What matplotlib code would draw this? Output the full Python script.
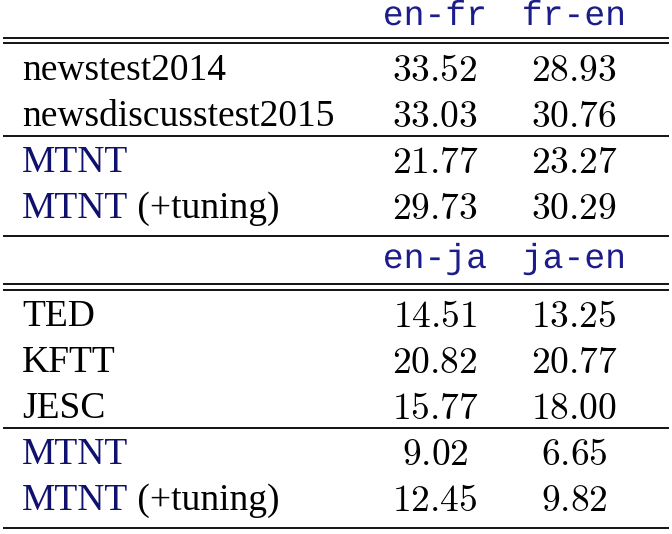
import matplotlib
matplotlib.use("Agg")
import matplotlib.pyplot as plt
import matplotlib.patheffects as pe

# data
pairs_fr = ["en-fr", "fr-en"]
rows_fr = ["newstest2014", "newsdiscusstest2015", "MTNT", "MTNT (+tuning)"]
bleu_en_fr = [33.52, 33.03, 21.77, 29.73]
bleu_fr_en = [28.93, 30.76, 23.27, 30.29]

pairs_ja = ["en-ja", "ja-en"]
rows_ja = ["TED", "KFTT", "JESC", "MTNT", "MTNT (+tuning)"]
bleu_en_ja = [14.51, 20.82, 15.77, 9.02, 12.45]
bleu_ja_en = [13.25, 20.77, 18.00, 6.65, 9.82]

plt.rcParams["mathtext.fontset"] = "cm"
blue = "#1c1c8a"
navy = "#10106e"
fs = 27

fig = plt.figure(figsize=(6.72, 5.34), dpi=100)
ax = fig.add_axes([0, 0, 1, 1])
ax.set_xlim(0, 672)
ax.set_ylim(534, 0)
ax.axis("off")

x_lab = 22
x_c1, x_c2 = 435, 574
x0, x1 = 3, 669

# thin the mono glyphs a bit so they look more like Courier
thin = [pe.withStroke(linewidth=1.1, foreground="white")]


def hline(y):
    ax.plot([x0, x1], [y, y], color="black", lw=1.3, solid_capstyle="butt")


def header(y, pairs):
    for x, p in zip([x_c1, x_c2], pairs):
        ax.text(x, y, p, ha="center", va="baseline", family="Liberation Mono",
                fontsize=25, color=blue, path_effects=thin)


def row(y, name, v1, v2):
    if name.startswith("MTNT"):
        t = ax.text(x_lab, y, "MTNT", ha="left", va="center_baseline",
                    family="Liberation Serif", fontsize=fs, color=navy)
        rest = name[4:]
        if rest:
            ax.annotate(rest, xy=(1, 0), xycoords=t, ha="left", va="bottom",
                        family="Liberation Serif", fontsize=fs, color="black")
    else:
        ax.text(x_lab, y, name, ha="left", va="center_baseline",
                family="Liberation Serif", fontsize=fs, color="black")
    ax.text(x_c1, y, f"${v1:.2f}$", ha="center", va="center_baseline", fontsize=fs)
    ax.text(x_c2, y, f"${v2:.2f}$", ha="center", va="center_baseline", fontsize=fs)


# top block
header(25, pairs_fr)
hline(37.5)
hline(42.5)
ys_fr = [67, 113, 159, 205]
for y, n, a, b in zip(ys_fr, rows_fr, bleu_en_fr, bleu_fr_en):
    row(y, n, a, b)
hline(136)
hline(235.5)

# bottom block
header(268, pairs_ja)
hline(284)
hline(289.5)
ys_ja = [313, 359, 405, 451, 497]
for y, n, a, b in zip(ys_ja, rows_ja, bleu_en_ja, bleu_ja_en):
    row(y, n, a, b)
hline(428)
hline(528)

fig.savefig("out.png", dpi=100)
